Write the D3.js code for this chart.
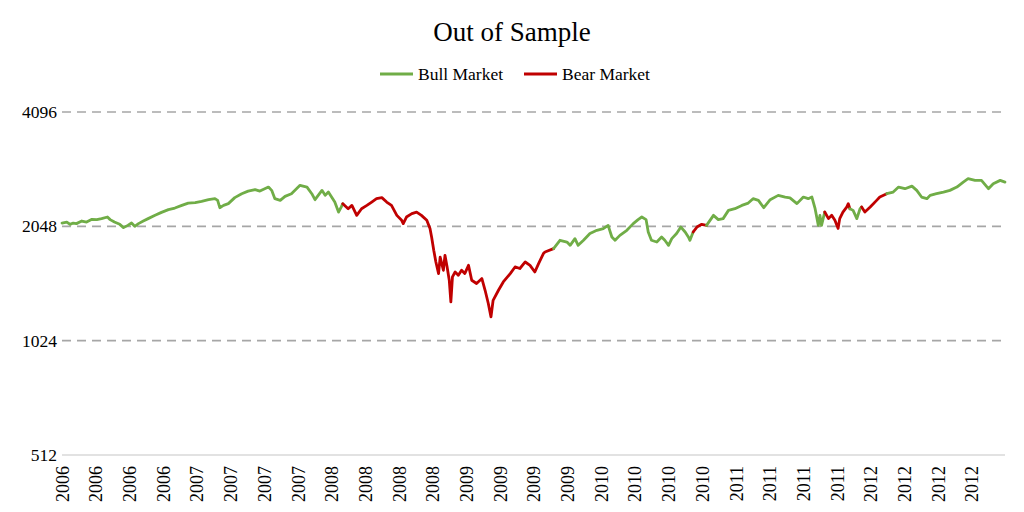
<!DOCTYPE html>
<html>
<head>
<meta charset="utf-8">
<script src="https://cdn.jsdelivr.net/npm/d3@7"></script>
<style>
  html, body { margin: 0; padding: 0; background: #fff; }
  svg { display: block; }
  text { font-family: "Liberation Serif", "Times New Roman", serif; fill: #000; }
</style>
</head>
<body>
<svg id="chart" width="1024" height="512"></svg>
<script>
// ---- data (trading-day index, index level, regime) ----
const dayIndex = [
  0, 9, 15, 21, 27, 37, 46, 56, 65, 74, 85, 90, 98, 108, 115, 123, 130, 136, 143, 152, 161, 174, 186, 199, 211, 224, 236, 249, 261, 274, 286, 291, 295, 302, 311, 323, 336, 348, 361, 370, 386, 392, 398, 408, 417, 429, 445, 458, 467, 473, 486, 492, 498, 504, 510, 517, 522,
  525, 535, 542, 551, 560, 570, 579, 588, 598, 607, 616, 626, 635, 638, 644, 654, 663, 672, 682, 688, 691, 695, 699, 704, 707, 713, 716, 720, 724, 727, 730, 735, 741, 747, 753, 760, 766, 775, 785, 791, 797, 802, 806, 816, 825, 838, 847, 856, 866, 875, 884, 891, 900, 903,
  919, 931, 944, 950, 959, 965, 975, 987, 1000, 1012, 1021, 1028, 1034, 1043, 1056, 1068, 1077, 1084, 1092, 1096, 1102, 1112, 1121, 1127, 1134, 1140, 1149, 1157, 1165, 1171, 1174,
  1180, 1187, 1196,
  1205, 1218, 1227, 1236, 1246, 1258, 1271, 1283, 1292, 1302, 1312, 1324, 1339, 1352, 1361, 1374, 1386, 1395, 1402, 1408, 1414, 1417, 1420, 1423,
  1426, 1433, 1439, 1445, 1451, 1454, 1460, 1467, 1470,
  1473, 1479, 1486, 1492,
  1495, 1501, 1511, 1523, 1529,
  1542, 1554, 1564, 1576, 1589, 1598, 1607, 1617, 1623, 1635, 1648, 1660, 1673, 1685, 1694, 1707, 1719, 1732, 1741, 1754, 1763
];
const indexValue = [
  2089, 2102, 2073, 2089, 2082, 2115, 2102, 2137, 2133, 2146, 2167, 2133, 2102, 2073, 2032, 2060, 2089, 2048, 2082, 2115, 2146, 2189, 2229, 2266, 2288, 2325, 2358, 2364, 2383, 2407, 2422, 2397, 2293, 2325, 2350, 2437, 2496, 2536, 2558, 2536, 2598, 2547, 2422, 2397, 2456, 2496, 2626, 2598, 2496, 2407, 2547, 2471, 2521, 2446, 2373, 2233, 2302,
  2350, 2279, 2325, 2189, 2279, 2325, 2373, 2422, 2437, 2373, 2325, 2189, 2124, 2082, 2167, 2212, 2233, 2189, 2124, 2020, 1920, 1771, 1650, 1538, 1700, 1569, 1718, 1601, 1477, 1295, 1507, 1553, 1522, 1569, 1538, 1617, 1477, 1448, 1492, 1390, 1283, 1183, 1308, 1390, 1462, 1538, 1601, 1586, 1650, 1617, 1553, 1634, 1736, 1753,
  1789, 1882, 1862, 1825, 1901, 1825, 1882, 1960, 1999, 2020, 2060, 1920, 1882, 1939, 1999, 2082, 2133, 2167, 2133, 1979, 1882, 1862, 1920, 1882, 1825, 1901, 1960, 2039, 1979, 1920, 1882,
  1979, 2039, 2073,
  2060, 2189, 2133, 2146, 2256, 2279, 2325, 2358, 2422, 2397, 2293, 2407, 2471, 2446, 2434, 2350, 2446, 2422, 2446, 2279, 2060, 2189, 2060, 2146,
  2233, 2146, 2189, 2124, 2023, 2146, 2233, 2302, 2350,
  2279, 2256, 2146, 2279,
  2302, 2233, 2302, 2397, 2446,
  2496, 2521, 2598, 2573, 2614, 2547, 2446, 2422, 2471, 2496, 2521, 2547, 2598, 2678, 2734, 2706, 2706, 2573, 2652, 2706, 2678
];
// regime runs: [label, number of points]
const regimeRuns = [
  ["Bull Market", 57], ["Bear Market", 54], ["Bull Market", 31], ["Bear Market", 3],
  ["Bull Market", 24], ["Bear Market", 9], ["Bull Market", 4], ["Bear Market", 5], ["Bull Market", 21]
];
const seriesNames = ["Bull Market", "Bear Market"];
const seriesColors = ["#70AD47", "#C00000"];
const yTicks = [512, 1024, 2048, 4096];
const xTickLabels = [
  "2006","2006","2006","2006","2007","2007","2007","2007","2008","2008","2008","2008",
  "2009","2009","2009","2009","2010","2010","2010","2010","2011","2011","2011","2011",
  "2012","2012","2012","2012"
];
const ticksEvery = 63; // trading days between category labels
const titleText = "Out of Sample";

// ---- drawing ----
const svg = d3.select("#chart");
const x = d3.scaleLinear().domain([0, 1763]).range([62, 1005]);
const y = d3.scaleLog().base(2).domain([512, 4096]).range([455, 112]);
const color = d3.scaleOrdinal().domain(seriesNames).range(seriesColors);

// gridlines
svg.append("g").selectAll("line").data(yTicks).join("line")
  .attr("x1", x.range()[0]).attr("x2", x.range()[1])
  .attr("y1", d => y(d)).attr("y2", d => y(d))
  .attr("stroke", d => d === 512 ? "#D9D9D9" : "#A6A6A6")
  .attr("stroke-width", 1.6)
  .attr("stroke-dasharray", d => d === 512 ? null : "9,6");

// y axis labels
const yAxis = d3.axisLeft(y).tickValues(yTicks).tickFormat(d3.format("d")).tickSize(0).tickPadding(0);
const gy = svg.append("g").attr("transform", "translate(57,0)").call(yAxis);
gy.select(".domain").remove();
gy.selectAll("text").style("font-size", "17.5px").style("font-family", "Liberation Serif, serif").attr("fill", "#000");

// x axis labels (rotated)
const tickDays = xTickLabels.map((_, i) => i * ticksEvery);
const xAxis = d3.axisBottom(x).tickValues(tickDays).tickFormat((d, i) => xTickLabels[i]).tickSize(0).tickPadding(0);
const gx = svg.append("g").attr("transform", "translate(0,466)").call(xAxis);
gx.select(".domain").remove();
gx.selectAll("text")
  .style("font-size", "18px").style("font-family", "Liberation Serif, serif").attr("fill", "#000")
  .attr("transform", "rotate(-90)")
  .attr("text-anchor", "end")
  .attr("x", 0).attr("y", 0).attr("dy", "0.34em");

// build points and segments
const points = dayIndex.map((d, i) => ({ day: d, value: indexValue[i] }));
const segments = [];
let start = 0;
regimeRuns.forEach(([name, n]) => {
  const end = Math.min(start + n + 1, points.length);
  segments.push({ name, pts: points.slice(start, end) });
  start += n;
});
const line = d3.line().x(d => x(d.day)).y(d => y(d.value));
svg.append("g").selectAll("path").data(segments).join("path")
  .attr("d", d => line(d.pts))
  .attr("fill", "none")
  .attr("stroke", d => color(d.name))
  .attr("stroke-width", 2.8)
  .attr("stroke-linejoin", "round")
  .attr("stroke-linecap", "round");

// title
svg.append("text").attr("x", 512).attr("y", 41).attr("text-anchor", "middle")
  .style("font-size", "27px").text(titleText);

// legend
const legendX = [380, 524];
const lg = svg.append("g").selectAll("g").data(seriesNames).join("g")
  .attr("transform", (d, i) => `translate(${legendX[i]},74)`);
lg.append("line").attr("x1", 0).attr("x2", 33).attr("y1", 0).attr("y2", 0)
  .attr("stroke", d => color(d)).attr("stroke-width", 2.8);
lg.append("text").attr("x", 38).attr("y", 6).style("font-size", "17.5px").text(d => d);
</script>
</body>
</html>
